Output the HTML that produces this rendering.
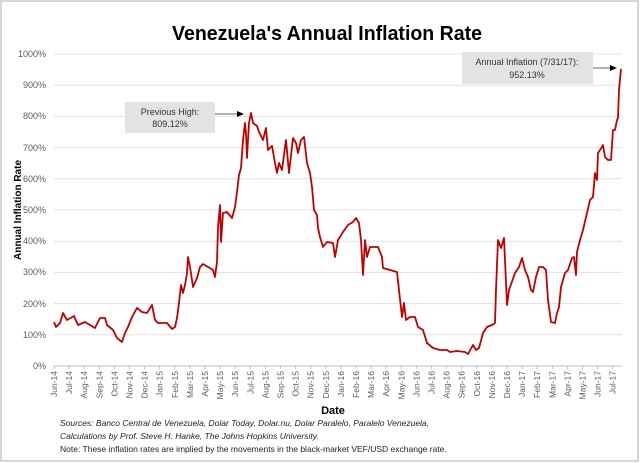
<!DOCTYPE html>
<html><head><meta charset="utf-8"><style>
html,body{margin:0;padding:0;background:#fff}
svg{display:block;font-family:"Liberation Sans",sans-serif}
</style></head><body>
<svg width="640" height="463" viewBox="0 0 640 463" xmlns="http://www.w3.org/2000/svg">
<rect x="1" y="1" width="637" height="460" fill="#fff" stroke="#c8c8c8" stroke-width="1.5"/>
<text x="327" y="40" text-anchor="middle" font-size="20" font-weight="bold" textLength="310" lengthAdjust="spacingAndGlyphs">Venezuela's Annual Inflation Rate</text>
<g stroke="#e0e0e0" stroke-width="1">
<line x1="54" x2="622" y1="54" y2="54"/><line x1="54" x2="622" y1="85.2" y2="85.2"/><line x1="54" x2="622" y1="116.4" y2="116.4"/><line x1="54" x2="622" y1="147.6" y2="147.6"/><line x1="54" x2="622" y1="178.8" y2="178.8"/><line x1="54" x2="622" y1="210" y2="210"/><line x1="54" x2="622" y1="241.2" y2="241.2"/><line x1="54" x2="622" y1="272.4" y2="272.4"/><line x1="54" x2="622" y1="303.6" y2="303.6"/><line x1="54" x2="622" y1="334.8" y2="334.8"/>
</g>
<line x1="54" x2="622" y1="366" y2="366" stroke="#bfbfbf"/>
<g font-size="9" fill="#595959" text-anchor="end">
<text x="46" y="57">1000%</text><text x="46" y="88">900%</text><text x="46" y="119">800%</text><text x="46" y="151">700%</text><text x="46" y="182">600%</text><text x="46" y="213">500%</text><text x="46" y="244">400%</text><text x="46" y="275">300%</text><text x="46" y="307">200%</text><text x="46" y="338">100%</text><text x="46" y="369">0%</text>
</g>
<text transform="translate(21,210) rotate(-90)" text-anchor="middle" font-size="10" font-weight="bold">Annual Inflation Rate</text>
<g id="xt" font-size="8.5" fill="#595959" text-anchor="end"></g>
<g id="tk" stroke="#bfbfbf"></g>
<text x="333" y="414" text-anchor="middle" font-size="11" font-weight="bold">Date</text>
<g font-size="8.5" fill="#222">
<text x="60" y="426" font-style="italic">Sources: Banco Central de Venezuela, Dolar Today, Dolar.nu, Dolar Paralelo, Paralelo Venezuela,</text>
<text x="60" y="439" font-style="italic">Calculations by Prof. Steve H. Hanke, The Johns Hopkins University.</text>
<text x="60" y="452">Note: These inflation rates are implied by the movements in the black-market VEF/USD exchange rate.</text>
</g>
<polyline fill="none" stroke="#c00000" stroke-width="1.8" stroke-linejoin="round" points="54,322 56,327 60,323 63,313 67,320 74,316 78,325 85,322 95,328 100,318 105,318 107,325 113,330 117,338 122,342 125,333 128,327 132,317 137,308 142,312 147,313 152,305 155,320 158,323 167,323 172,329 175,327 177,318 179,303 181,285 183,293 185,285 187,273 188,257 190,267 192,280 193,287 197,278 200,267 203,264 213,270 215,277 217,262 218,227 220,205 221,242 223,213 227,212 232,218 235,207 237,192 239,175 241,168 243,140 245,123 246,133 247,158 249,123 251,113 253,123 257,126 259,132 263,140 266,128 268,150 272,146 275,163 277,173 279,163 282,170 285,147 286,140 289,173 293,138 296,143 298,153 301,140 304,137 307,163 310,173 312,187 314,210 317,215 318,228 320,237 323,247 327,242 333,243 335,257 338,240 343,232 348,225 353,222 356,218 359,223 361,240 363,275 365,240 367,257 370,247 378,247 382,257 383,268 390,270 397,272 399,290 402,317 404,303 406,320 410,317 415,317 418,327 423,330 427,343 433,348 440,350 447,350 450,352 457,351 465,352 468,354 473,345 476,350 479,348 483,333 487,327 492,325 495,323 496,290 498,240 501,248 504,238 507,305 509,290 515,273 519,267 522,258 525,270 528,277 531,290 533,292 536,277 539,267 543,267 546,270 548,300 551,322 555,323 557,313 559,307 561,287 565,273 568,270 572,258 574,257 576,275 577,252 580,240 583,230 587,213 590,200 593,197 595,173 597,180 598,153 602,147 603,145 605,157 608,160 611,160 613,130 615,130 617,120 618,118 619,90 621,69"/>
<rect x="125" y="102" width="90" height="31" fill="#e3e3e3"/>
<text x="170" y="115" text-anchor="middle" font-size="9" fill="#333">Previous High:</text>
<text x="170" y="127" text-anchor="middle" font-size="9" fill="#333">809.12%</text>
<line x1="215" y1="114" x2="238" y2="114" stroke="#333" stroke-width="0.8"/>
<polygon points="244,114 237,111 237,117" fill="#000"/>
<rect x="462" y="52" width="131" height="32" fill="#e3e3e3"/>
<text x="527" y="65" text-anchor="middle" font-size="9" fill="#333">Annual Inflation (7/31/17):</text>
<text x="527" y="78" text-anchor="middle" font-size="9" fill="#333">952.13%</text>
<line x1="593" y1="68" x2="611" y2="68" stroke="#333" stroke-width="0.8"/>
<polygon points="617,68 610,65 610,71" fill="#000"/>
<script>
var m=["Jun","Jul","Aug","Sep","Oct","Nov","Dec","Jan","Feb","Mar","Apr","May"];
var g=document.getElementById("xt"),t=document.getElementById("tk"),ns="http://www.w3.org/2000/svg";
for(var i=0;i<38;i++){var x=54+i*15.1;var mi=i%12;var yr=14+Math.floor((i+5)/12);
var e=document.createElementNS(ns,"text");e.setAttribute("transform","translate("+(x+3)+",371) rotate(-90)");e.textContent=m[mi]+"-"+yr;g.appendChild(e);
var l=document.createElementNS(ns,"line");l.setAttribute("x1",x);l.setAttribute("x2",x);l.setAttribute("y1",366);l.setAttribute("y2",369);t.appendChild(l);}
</script>
</svg>
</body></html>
